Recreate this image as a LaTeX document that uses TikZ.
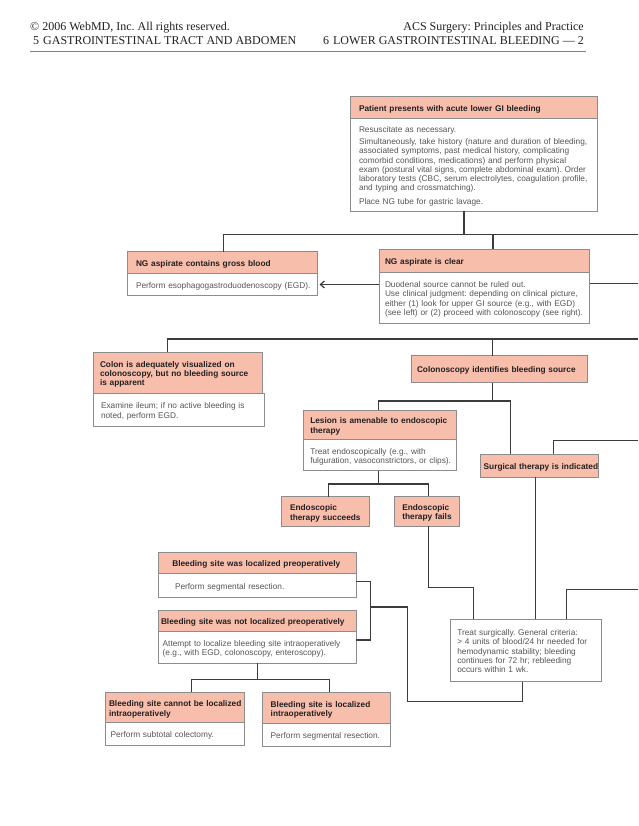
\documentclass[tikz,border=0pt]{standalone}
\usepackage{fontspec}
\setmainfont{Liberation Sans}
\newfontfamily\seriffam{Liberation Serif}
\usetikzlibrary{arrows.meta}
\frenchspacing
\newcommand\bdf{\fontsize{8.3}{9.3}\selectfont}
\newcommand\hdf{\fontsize{8.3}{9.3}\selectfont\bfseries}
\newcommand\pgf{\fontsize{12}{14}\selectfont\seriffam}
\newcommand\lines[1]{\raisebox{-2pt}[\height][\depth]{\begin{tabular}{@{}l@{}}#1\end{tabular}}}
\definecolor{salmon}{RGB}{248,190,172}
\definecolor{bordergray}{RGB}{140,140,140}
\definecolor{linegray}{RGB}{60,60,60}
\definecolor{hdtext}{RGB}{35,31,32}
\definecolor{bdtext}{RGB}{85,85,85}
\definecolor{redrule}{RGB}{232,80,90}
\tikzset{
  hd/.style={draw=bordergray, fill=salmon, line width=0.8pt, font=\hdf, text=hdtext, align=left, anchor=north west, inner ysep=0pt, outer sep=0pt},
  bd/.style={draw=bordergray, fill=white, line width=0.8pt, font=\bdf, text=bdtext, align=left, anchor=north west, inner ysep=0pt, outer sep=0pt},
  pagetext/.style={font=\pgf, text=hdtext, inner sep=0pt},
  conn/.style={draw=linegray, line width=1.2pt},
  arr/.style={conn, -{Straight Barb[length=4pt, width=7pt]}}
}
\begin{document}
\begin{tikzpicture}[x=1pt, y=-1pt]
\useasboundingbox[fill=white] (0,0) rectangle (638,826);

% page header
\node[pagetext, anchor=base west] (h1) at (30,31) {© 2006 WebMD, Inc. All rights reserved.};
\node[pagetext, anchor=base west] (h2) at (33,45) {5\hspace{4pt}GASTROINTESTINAL TRACT AND ABDOMEN};
\node[pagetext, anchor=base east] (h3) at (584,31) {ACS Surgery: Principles and Practice};
\node[pagetext, anchor=base east] (h4) at (584,45) {6\hspace{4pt}LOWER GASTROINTESTINAL BLEEDING — 2};
\draw[redrule, line width=1pt] (30,52) -- (586,52);

% top box
\node[hd, minimum height=22pt, text width=229pt, inner xsep=9pt] (Ph) at (350,96.5) {\lines{Patient presents with acute lower GI bleeding}};
\node[bd, minimum height=92.5pt, text width=229pt, inner xsep=9pt] (Pb) at (Ph.south west) {\lines{Resuscitate as necessary.\\[2.6pt]
Simultaneously, take history (nature and duration of bleeding,\\
associated symptoms, past medical history, complicating\\
comorbid conditions, medications) and perform physical\\
exam (postural vital signs, complete abdominal exam). Order\\
laboratory tests (CBC, serum electrolytes, coagulation profile,\\
and typing and crossmatching).\\[4.5pt]
Place NG tube for gastric lavage.}};

% NG gross blood
\node[hd, minimum height=22pt, text width=173pt, inner xsep=8.5pt] (Gh) at (127.5,251.5) {\lines{NG aspirate contains gross blood}};
\node[bd, minimum height=22pt, text width=173pt, inner xsep=8.5pt] (Gb) at (Gh.south west) {\lines{Perform esophagogastroduodenoscopy (EGD).}};

% NG clear
\node[hd, minimum height=23pt, text width=198.5pt, inner xsep=6pt] (Ch) at (379,249) {\lines{NG aspirate is clear}};
\node[bd, minimum height=51.5pt, text width=198.5pt, inner xsep=6pt] (Cb) at (Ch.south west) {\lines{Duodenal source cannot be ruled out.\\
Use clinical judgment: depending on clinical picture,\\
either (1) look for upper GI source (e.g., with EGD)\\
(see left) or (2) proceed with colonoscopy (see right).}};

% colon visualized
\node[hd, minimum height=41pt, text width=155pt, inner xsep=7pt] (Vh) at (93,352) {\lines{Colon is adequately visualized on\\colonoscopy, but no bleeding source\\is apparent}};
\node[bd, minimum height=33pt, text width=155pt, inner xsep=8pt] (Vb) at (Vh.south west) {\lines{Examine ileum; if no active bleeding is\\noted, perform EGD.}};

% colonoscopy identifies
\node[hd, minimum height=27pt, text width=164pt, inner xsep=6pt] (I) at (411,355.6) {\lines{Colonoscopy identifies bleeding source}};

% lesion amenable
\node[hd, minimum height=29.3pt, text width=138.7pt, inner xsep=7pt] (Lh) at (303.3,410) {\lines{Lesion is amenable to endoscopic\\therapy}};
\node[bd, minimum height=31.4pt, text width=138.7pt, inner xsep=7pt] (Lb) at (Lh.south west) {\lines{Treat endoscopically (e.g., with\\fulguration, vasoconstrictors, or clips).}};

% surgical therapy
\node[hd, minimum height=23.3pt, text width=111.6pt, inner xsep=3pt] (S) at (480.7,454) {\lines{Surgical therapy is indicated}};

% endoscopic boxes
\node[hd, minimum height=30pt, text width=70.7pt, inner xsep=8.3pt] (E1) at (281.7,496.7) {\lines{Endoscopic\\therapy succeeds}};
\node[hd, minimum height=29.7pt, text width=49pt, inner xsep=8pt] (E2) at (394.3,496.3) {\lines{Endoscopic\\therapy fails}};

% treat surgically
\node[bd, minimum height=62.7pt, text width=137pt, inner xsep=7.3pt] (T) at (450,619) {\lines{Treat surgically. General criteria:\\
> 4 units of blood/24 hr needed for\\
hemodynamic stability; bleeding\\
continues for 72 hr; rebleeding\\
occurs within 1 wk.}};

% localized preoperatively
\node[hd, minimum height=20.6pt, text width=169.7pt, inner xsep=14pt] (LPh) at (158.3,552.7) {\lines{Bleeding site was localized preoperatively}};
\node[bd, minimum height=24pt, text width=164.3pt, inner xsep=16.7pt] (LPb) at (LPh.south west) {\lines{Perform segmental resection.}};

% not localized preoperatively
\node[hd, minimum height=21pt, text width=192pt, inner xsep=3pt] (NPh) at (158,610) {\lines{Bleeding site was not localized preoperatively}};
\node[bd, minimum height=32.3pt, text width=188.6pt, inner xsep=4.7pt] (NPb) at (NPh.south west) {\lines{Attempt to localize bleeding site intraoperatively\\(e.g., with EGD, colonoscopy, enteroscopy).}};

% cannot be localized intraoperatively
\node[hd, minimum height=30.4pt, text width=131pt, inner xsep=4pt] (CIh) at (105,692.3) {\lines{Bleeding site cannot be localized\\intraoperatively}};
\node[bd, minimum height=22.3pt, text width=127.6pt, inner xsep=5.7pt] (CIb) at (CIh.south west) {\lines{Perform subtotal colectomy.}};

% is localized intraoperatively
\node[hd, minimum height=31pt, text width=111.6pt, inner xsep=8.4pt] (LIh) at (262.3,692.3) {\lines{Bleeding site is localized\\intraoperatively}};
\node[bd, minimum height=22.7pt, text width=111.6pt, inner xsep=8.4pt] (LIb) at (LIh.south west) {\lines{Perform segmental resection.}};

% junction coordinates
\coordinate (j1) at (464,234.3);
\coordinate (k1) at (223.3,234.3);
\coordinate (k2) at (493,234.3);
\coordinate (r1) at (638,234.3);
\coordinate (r2) at (638,283.5);
\coordinate (k3) at (167.3,339);
\coordinate (k4) at (492.8,339);
\coordinate (r3) at (638,339);
\coordinate (j2) at (492.8,401);
\coordinate (k5) at (378.3,401);
\coordinate (k6) at (510.5,401);
\coordinate (k7) at (553.3,440.7);
\coordinate (r4) at (638,440.7);
\coordinate (j3) at (378.3,484);
\coordinate (k8) at (328.7,484);
\coordinate (k9) at (428.3,484);
\coordinate (k10) at (428.3,587.3);
\coordinate (k11) at (473.3,587.3);
\coordinate (k12) at (535.7,550);
\coordinate (k13) at (566.7,589.3);
\coordinate (r5) at (638,589.3);
\coordinate (k14) at (522.7,701.7);
\coordinate (k15) at (407.7,701.7);
\coordinate (k16) at (407.7,607);
\coordinate (k17) at (370.5,607);
\coordinate (b1) at (370.5,581.7);
\coordinate (b2) at (370.5,640);
\coordinate (j4) at (257.3,679.3);
\coordinate (k18) at (191.7,679.3);
\coordinate (k19) at (329.3,679.3);

% connectors
\draw[conn] (Pb.south -| j1) -- (j1);
\draw[conn] (Gh.north -| k1) -- (k1) -- (r1);
\draw[conn] (Ch.north -| k2) -- (k2);
\draw[arr] (Cb.west |- Gb.east) -- ([xshift=2pt]Gb.east);
\draw[conn] (Cb.east |- r2) -- (r2);
\draw[conn] (Vh.north -| k3) -- (k3) -- (r3);
\draw[conn] (I.north -| k4) -- (k4);
\draw[conn] (I.south -| j2) -- (j2);
\draw[conn] (Lh.north -| k5) -- (k5) -- (k6) -- (S.north -| k6);
\draw[conn] (S.north -| k7) -- (k7) -- (r4);
\draw[conn] (Lb.south -| j3) -- (j3);
\draw[conn] (E1.north -| k8) -- (k8) -- (k9) -- (E2.north -| k9);
\draw[conn] (E2.south -| k10) -- (k10) -- (k11) -- (T.north -| k11);
\draw[conn] (S.south -| k12) -- (T.north -| k12);
\draw[conn] (T.north -| k13) -- (k13) -- (r5);
\draw[conn] (T.south -| k14) -- (k14) -- (k15) -- (k16) -- (k17);
\draw[conn] (LPb.east |- b1) -- (b1) -- (b2) -- (NPb.east |- b2);
\draw[conn] (NPb.south -| j4) -- (j4);
\draw[conn] (CIh.north -| k18) -- (k18) -- (k19) -- (LIh.north -| k19);
\end{tikzpicture}
\end{document}
